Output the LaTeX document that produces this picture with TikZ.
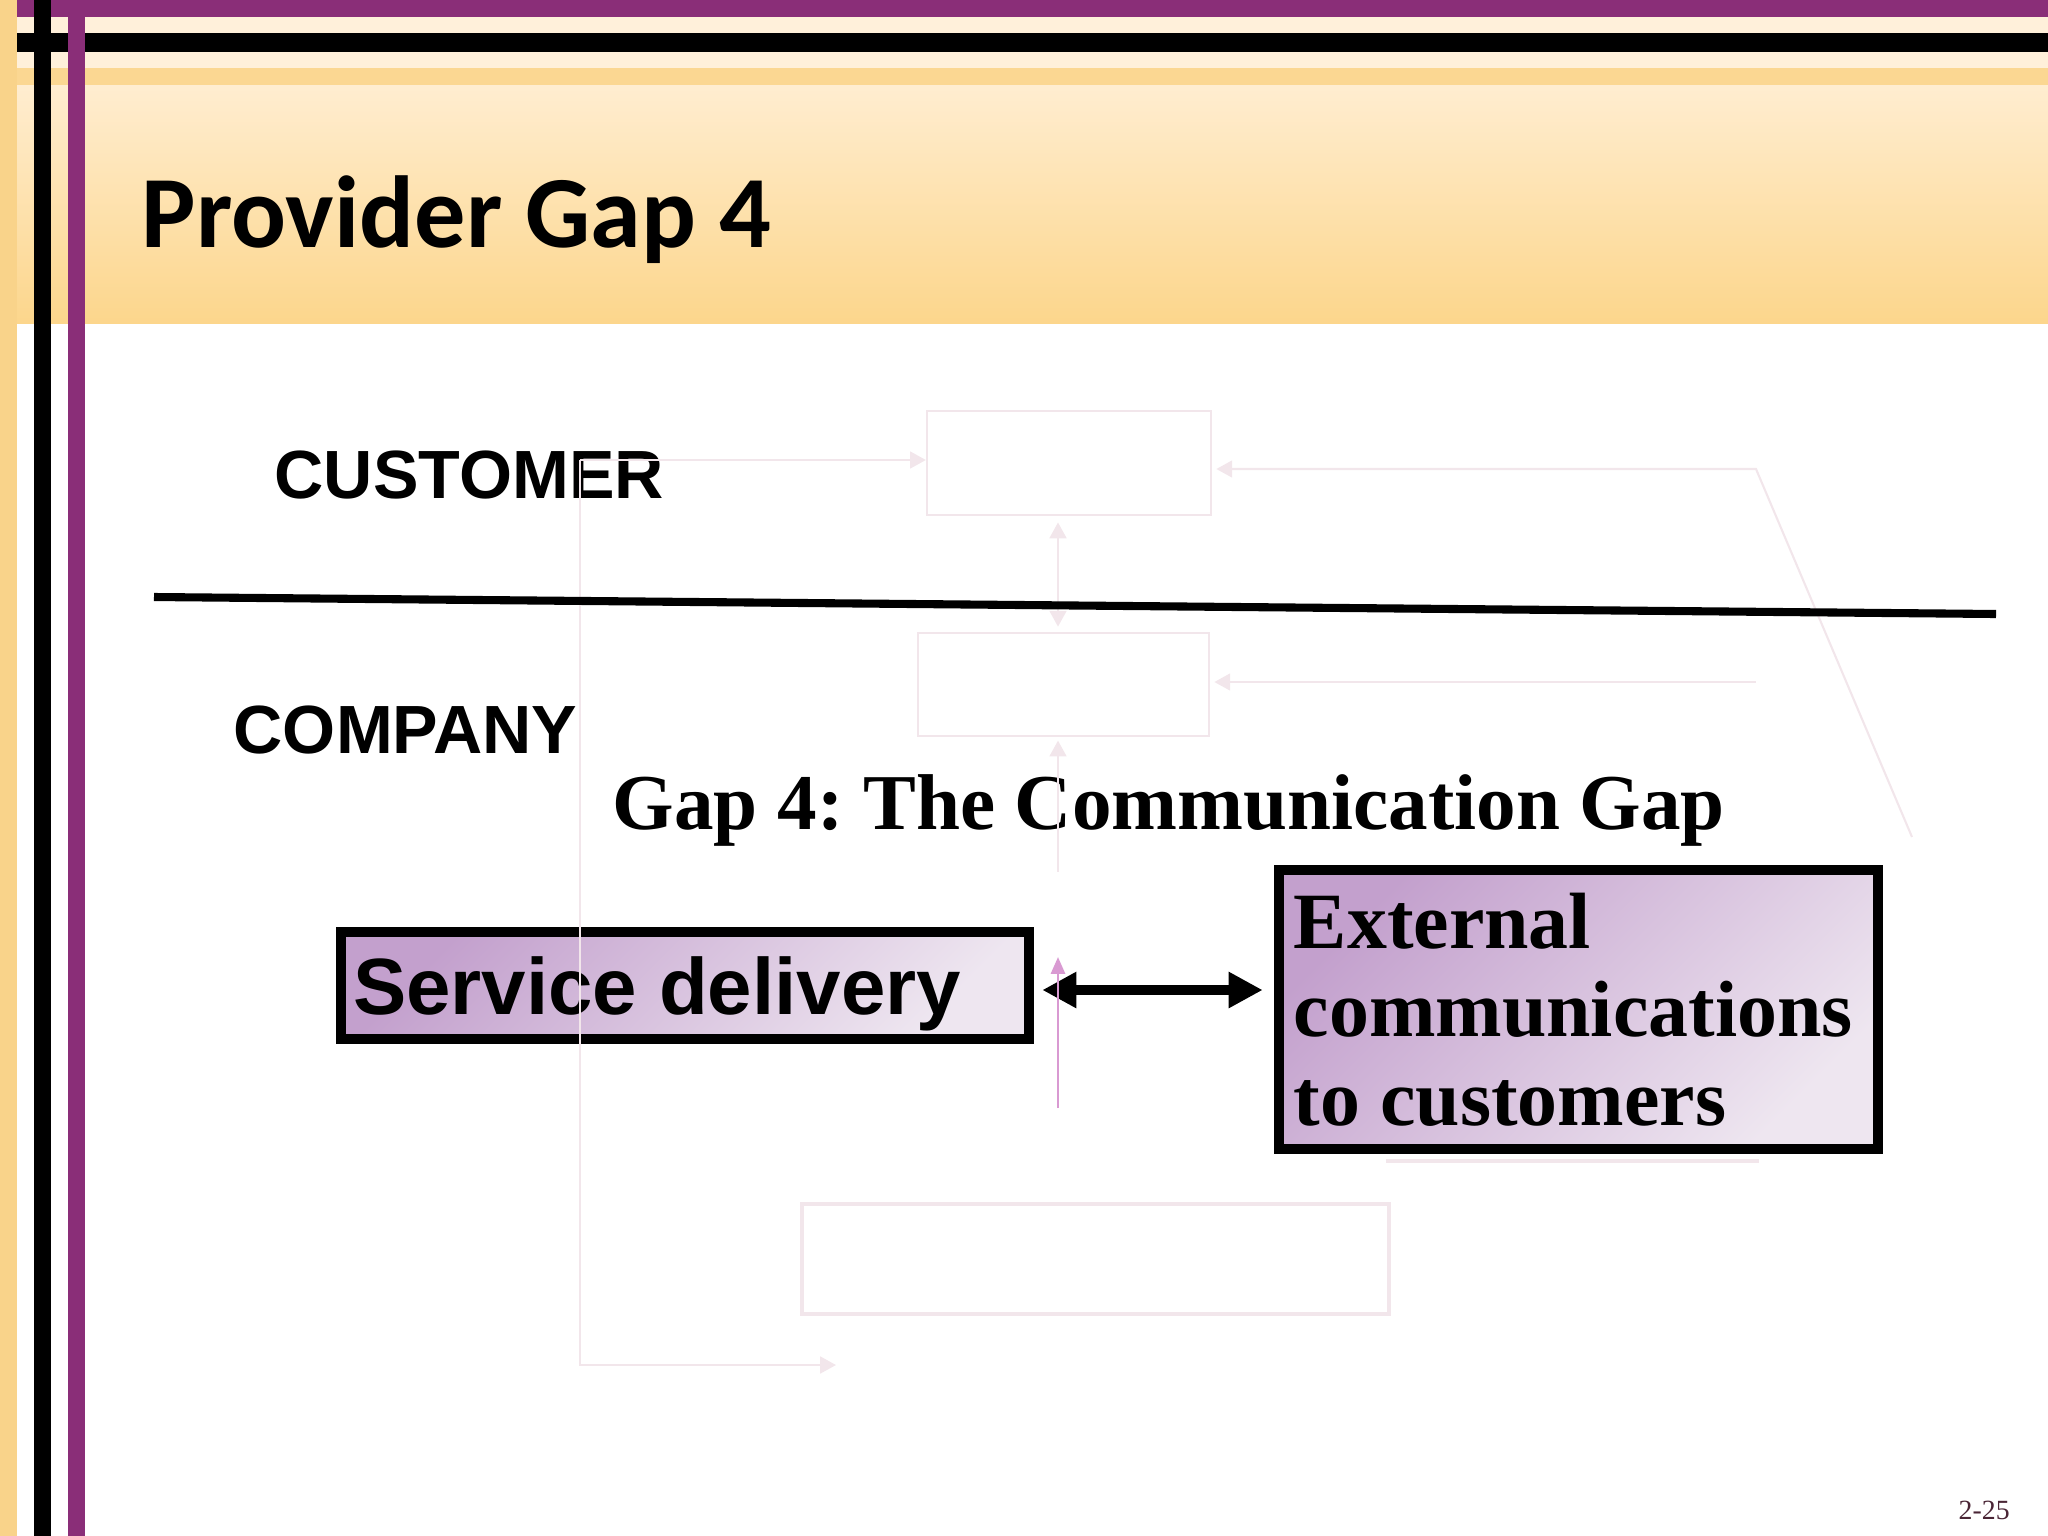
\documentclass[tikz,border=0pt]{standalone}
\usepackage{fontspec}
\setmainfont{Liberation Serif}
\newfontfamily\arialfont{Liberation Sans}
\newfontfamily\calibrifont{Carlito}
\usetikzlibrary{arrows.meta}
\frenchspacing

\definecolor{slidepurple}{HTML}{8A2E78}
\definecolor{slideorange}{HTML}{F9D38A}
\definecolor{bandorange}{HTML}{FBD792}
\definecolor{cream}{HTML}{FFF0DA}
\definecolor{hdrtop}{HTML}{FFEDD0}
\definecolor{hdrbot}{HTML}{FCD68C}
\definecolor{faintgray}{HTML}{F2E6EB}
\definecolor{lilacdark}{HTML}{C3A0CD}
\definecolor{lilaclight}{HTML}{EEE6F0}
\definecolor{pinkline}{HTML}{D99AD2}
\definecolor{pagenum}{HTML}{4A2535}

\tikzset{
  side/.style={anchor=base west, inner sep=0, font=\arialfont\bfseries\fontsize{19.4}{23}\selectfont},
  gapbox/.style={draw=black, line width=3pt, top color=lilacdark, bottom color=lilaclight, shading angle=45, align=flush left},
  faint/.style={draw=faintgray, line width=0.6pt},
  faintbox/.style={faint, inner sep=0},
  faintarrow/.style={faint, -{Triangle[length=4.5pt, width=4.8pt]}},
  bigarrow/.style={line width=2.85pt, {Triangle[length=9.7pt, width=9.7pt]}-{Triangle[length=9.7pt, width=9.7pt]}},
  pinkarrow/.style={draw=pinkline, line width=0.75pt, -{Triangle[length=4.8pt, width=4pt]}}
}

\begin{document}
\begin{tikzpicture}[x=0.01cm, y=-0.01cm]
        \useasboundingbox (0, 0) rectangle (2048, 1536);

        % slide frame
        \fill[slidepurple] (17, 0) rectangle (2048, 17);
        \fill[cream] (17, 17) rectangle (2048, 33);
        \fill[black] (17, 33) rectangle (2048, 52);
        \fill[cream] (17, 52) rectangle (2048, 68);
        \fill[bandorange] (17, 68) rectangle (2048, 85);
        \shade[top color=hdrtop, bottom color=hdrbot] (17, 85) rectangle (2048, 323);
        \fill[slideorange] (0, 0) rectangle (17, 1536);
        \fill[black] (34, 0) rectangle (51, 1536);
        \fill[slidepurple] (68, 0) rectangle (85, 1536);

        \node[anchor=base west, inner sep=0, font=\calibrifont\bfseries\fontsize{29.1}{34}\selectfont] (title) at (141, 247) {Provider Gap 4};

        \node[side] (customer) at (274, 498) {CUSTOMER};
        \node[side] (company) at (233, 753) {COMPANY};
        \node[anchor=base west, inner sep=0, font=\bfseries\fontsize{22.5}{27}\selectfont] (gaptitle) at (612, 829) {Gap 4: The Communication Gap};

        \node[gapbox, minimum width=195.6pt, minimum height=30.4pt, text width=188.8pt, inner xsep=3.4pt, text depth=0pt, font=\arialfont\bfseries\fontsize{22.7}{27}\selectfont] (delivery) at (685, 985.5) {Service delivery};
        \node[gapbox, minimum width=170.4pt, minimum height=79.4pt, text width=161.9pt, inner xsep=4.25pt, font=\bfseries\fontsize{22.7}{25.2}\selectfont] (extcomm) at (1578.5, 1009.5) {External\\ communications\\ to customers};

        % faded model behind
        \node[faintbox, minimum width=80.8pt, minimum height=29.6pt] (boxA) at (1069, 463) {};
        \node[faintbox, minimum width=82.8pt, minimum height=29.3pt] (boxB) at (1063.5, 684.5) {};
        \node[faintbox, line width=1.1pt, minimum width=167pt, minimum height=31.3pt] (boxC) at (1095.5, 1259) {};

        \coordinate (custcorner) at (580, 460);
        \coordinate (loopcorner) at (580, 1365);
        \coordinate (loopend) at (836, 1365);
        \coordinate (kneeR) at (1756, 469);
        \coordinate (slantfoot) at (1912, 837);
        \coordinate (midR) at (1756, 682);
        \coordinate (vline) at (1058, 0);
        \coordinate (vfoot) at (1058, 872);
        \coordinate (shadowL) at (1386, 1161);
        \coordinate (shadowR) at (1759, 1161);

        \draw[faintarrow] (custcorner) -- (boxA.west |- custcorner);
        \draw[faintarrow] (custcorner) -- (loopcorner) -- (loopend);
        \draw[faintarrow, shorten >=1.2pt] (slantfoot) -- (kneeR) -- (boxA.east |- kneeR);
        \draw[faintarrow, shorten >=1.2pt] (midR) -- (boxB.east |- midR);
        \draw[faint, {Triangle[length=4.5pt, width=4.8pt]}-{Triangle[length=4.5pt, width=4.8pt]}, shorten <=1.8pt, shorten >=1.5pt] (boxA.south -| vline) -- (boxB.north -| vline);
        \draw[faintarrow, shorten >=1pt] (vfoot) -- (boxB.south -| vline);
        \draw[faint, line width=1.1pt] (shadowL) -- (shadowR);

        \coordinate (divL) at (154, 597);
        \coordinate (divR) at (1996, 614);
        \draw[line width=2.3pt] (divL) -- (divR);

        \coordinate (arrowlevel) at (0, 990);
        \draw[bigarrow, shorten <=2.3pt, shorten >=3.1pt] (delivery.east |- arrowlevel) -- (extcomm.west |- arrowlevel);

        \coordinate (pinkfoot) at (1058, 1108);
        \coordinate (pinktip) at (1058, 957);
        \draw[pinkarrow] (pinkfoot) -- (pinktip);

        \node[anchor=base west, inner sep=0, text=pagenum, font=\fontsize{7.9}{9}\selectfont] (pageno) at (1958, 1519) {2-25};
    \end{tikzpicture}
\end{document}
